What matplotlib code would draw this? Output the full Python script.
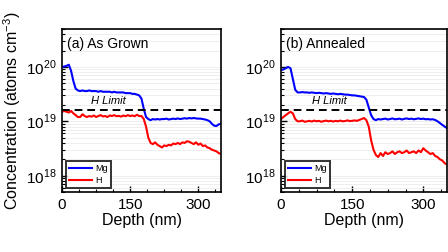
import numpy as np
import matplotlib
matplotlib.use("Agg")
import matplotlib.pyplot as plt
from matplotlib.ticker import LogLocator, FixedLocator, NullFormatter, FixedFormatter

plt.rcParams['font.family'] = ['Liberation Sans', 'DejaVu Sans']
plt.rcParams['mathtext.fontset'] = 'custom'
plt.rcParams['mathtext.rm'] = 'Liberation Sans'

depth = np.arange(0, 355, 5)

# values in units of 1e18 atoms/cm^3
mg_a = [100, 102, 105, 110, 85, 55, 40, 37, 36, 37, 36, 36, 37, 36, 36, 36, 35, 36, 35, 35,
        35, 35, 34, 35, 34, 34, 34, 34, 33, 33, 33, 32, 32, 31, 30, 26, 17, 12, 11, 10.5,
        11, 10.8, 11, 10.8, 11, 11, 11.2, 10.8, 11, 11.2, 11, 11.3, 11, 11.2, 11.4, 11.2,
        11.5, 11.3, 11.5, 11.3, 11.2, 11.2, 11, 10.8, 10.5, 10, 9, 8.3, 8.2, 8.8, 9]
h_a = [15, 15.5, 15, 14.5, 15.5, 14, 13, 12, 12, 13.5, 12.5, 12, 12.5, 12.2, 12.8, 12,
       12.5, 13, 12.3, 12.5, 12, 12.8, 12.5, 13, 12.4, 12.6, 12.2, 12.8, 12.4, 13, 12.5,
       12.8, 12.4, 13.2, 12.5, 12.5, 11, 8, 5, 4, 3.8, 4.1, 3.7, 3.5, 3.3, 3.6, 3.5, 3.7,
       3.6, 3.9, 3.8, 4.0, 3.8, 4.1, 4.0, 4.3, 4.2, 4.0, 3.8, 4.1, 3.7, 3.9, 3.5, 3.6, 3.3,
       3.2, 3.0, 2.9, 2.8, 2.6, 2.5]
mg_b = [88, 90, 95, 100, 95, 60, 38, 34, 34, 34.5, 34, 34, 33.5, 34, 33.5, 33, 33.5, 33,
        32.5, 33, 32.5, 32, 32.5, 32, 31.5, 32, 31.5, 31, 31, 30.5, 30, 30, 29.5, 29, 28.5,
        28, 25, 18, 13, 11, 10.5, 11, 10.8, 11, 11.2, 10.8, 11, 11.3, 10.9, 11, 11.2, 10.8,
        11.1, 11.3, 11, 11.2, 10.9, 11.1, 11.3, 11, 11.2, 10.9, 11, 10.8, 10.9, 10.6, 10,
        9.3, 8.6, 8, 7.5]
h_b = [11, 12, 13, 14, 15, 14, 11, 10, 10, 10.3, 9.8, 10, 10.2, 9.9, 10.3, 10, 10.2,
       9.8, 10.1, 10.3, 10, 10.2, 9.9, 10.2, 10, 10.3, 10, 10.1, 10.4, 10.1, 10.2, 10.4,
       10.2, 10.6, 11, 11.5, 10.5, 8, 4.5, 3, 2.4, 2.2, 2.6, 2.3, 2.7, 2.5, 2.6, 2.8, 2.5,
       2.7, 2.8, 2.6, 2.7, 2.9, 2.6, 2.7, 2.8, 2.6, 2.9, 2.7, 3.2, 2.9, 2.7, 2.5, 2.6, 2.3,
       2.2, 2.0, 1.9, 1.7, 1.6]
h_limit = 16
titles = ['(a) As Grown', '(b) Annealed']
xticks = [0, 150, 300]
yticks = [1e18, 1e19, 1e20]
ytick_labels = ['$10^{18}$', '$10^{19}$', '$10^{20}$']

fig = plt.figure(figsize=(4.48, 2.52), dpi=100)
axes = [fig.add_axes([62/448, 1-192/252, 159/448, 163/252]),
        fig.add_axes([281/448, 1-192/252, 166/448, 163/252])]

data = [(mg_a, h_a), (mg_b, h_b)]
for i, ax in enumerate(axes):
    mg, h = data[i]
    ax.set_yscale('log')
    ax.plot(depth, np.array(mg) * 1e18, color='#0000ff', lw=1.5, label='Mg')
    ax.plot(depth, np.array(h) * 1e18, color='#ff0000', lw=1.5, label='H')
    ax.axhline(h_limit * 1e18, color='black', lw=1.4, ls=(0, (4, 2.5)))
    ax.text(102, 2.35e19, 'H Limit', style='italic', fontsize=8, ha='center', va='center')
    ax.text(0.03, 0.95, titles[i], transform=ax.transAxes, fontsize=10, ha='left', va='top')
    ax.set_xlim(0, 350)
    ax.set_ylim(5e17, 5e20)
    ax.xaxis.set_major_locator(FixedLocator(xticks))
    ax.xaxis.set_minor_locator(FixedLocator(np.arange(0, 351, 37.5)))
    ax.yaxis.set_major_locator(FixedLocator(yticks))
    ax.yaxis.set_major_formatter(FixedFormatter(ytick_labels))
    ax.yaxis.set_minor_locator(LogLocator(base=10, subs=np.arange(2, 10)))
    ax.yaxis.set_minor_formatter(NullFormatter())
    ax.grid(True, which='both', axis='y', color='#ebebeb', lw=0.6)
    ax.set_axisbelow(True)
    ax.tick_params(which='both', direction='in', labelsize=11, pad=4)
    ax.tick_params(which='major', length=4, width=1)
    ax.tick_params(which='minor', length=2, width=0.8)
    for s in ax.spines.values():
        s.set_linewidth(1.2)
    ax.set_xlabel('Depth (nm)', fontsize=11.5, labelpad=1)
    leg = ax.legend(loc='lower left', fontsize=6.5, frameon=True, fancybox=False,
                    handlelength=2.6, borderpad=0.35, labelspacing=0.35,
                    handletextpad=0.3, borderaxespad=0.4)
    leg.get_frame().set_edgecolor('black')
    leg.get_frame().set_linewidth(1.4)

axes[0].set_ylabel('Concentration (atoms cm$^{-3}$)', fontsize=11.5, labelpad=2)

fig.savefig('out.png', dpi=100)
